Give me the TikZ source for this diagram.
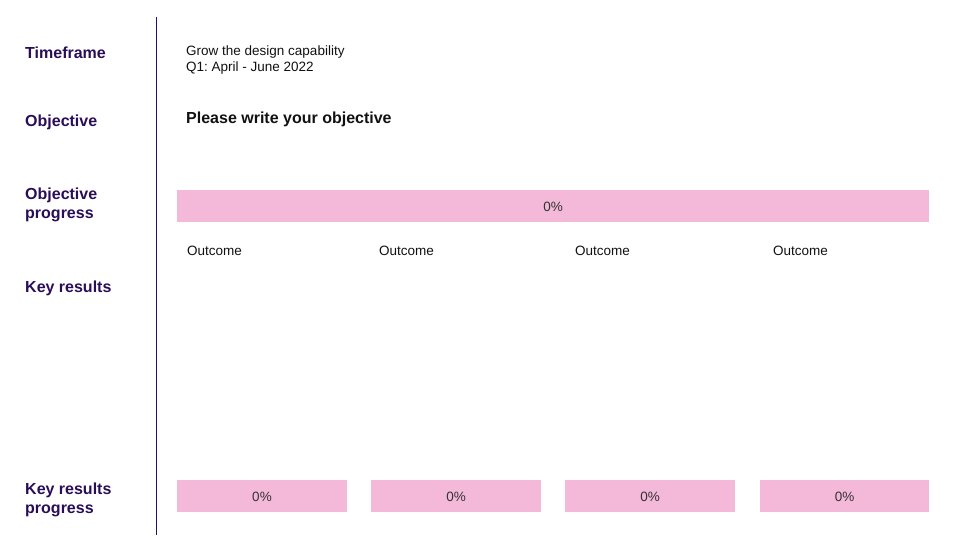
\documentclass[tikz,border=0pt]{standalone}
\usepackage{fontspec}
\setmainfont{Liberation Sans}
\frenchspacing
\definecolor{navy}{HTML}{2A0D57}
\definecolor{pinkbar}{HTML}{F4B8D8}
\definecolor{txt}{HTML}{111111}
\begin{document}
\begin{tikzpicture}[x=1pt,y=-1pt,
  lab/.style={anchor=west,font=\fontsize{16}{19}\selectfont\bfseries,text=navy,align=left,inner sep=0},
  body/.style={anchor=west,font=\fontsize{13.5}{16}\selectfont,text=txt,align=left,inner sep=0},
  bar/.style={fill=pinkbar,draw=none},
  pct/.style={font=\fontsize{13.5}{16}\selectfont,text=black!80,inner sep=0}]
\useasboundingbox (0,0) rectangle (960,540);
\coordinate (lt) at (156,17);
\coordinate (lb) at (156,535);
\draw[navy,line width=1pt] (lt) -- (lb);
\node[lab] (tf) at (25,53) {Timeframe};
\node[lab] (ob) at (25,122) {Objective};
\node[lab] (op) at (25,205) {Objective\\progress};
\node[lab] (kr) at (25,288) {Key results};
\node[lab] (krp) at (25,500) {Key results\\progress};
\node[body] (grow) at (186,60.5) {Grow the design capability\\Q1: April - June 2022};
\node[body,font=\fontsize{16}{19}\selectfont\bfseries] (pw) at (186,119) {Please write your objective};
\fill[bar] (177,190) rectangle (929,222);
\node[pct] (p0) at (553,207) {0\%};
\node[body] (o1) at (187,251) {Outcome};
\node[body] (o2) at (379,251) {Outcome};
\node[body] (o3) at (575,251) {Outcome};
\node[body] (o4) at (773,251) {Outcome};
\foreach \a/\b/\n in {177/347/1,371/541/2,565/735/3,760/929/4}{
  \fill[bar] (\a,480) rectangle (\b,512);
  \node[pct] (q\n) at ({(\a+\b)/2},497) {0\%};
}
\end{tikzpicture}
\end{document}
